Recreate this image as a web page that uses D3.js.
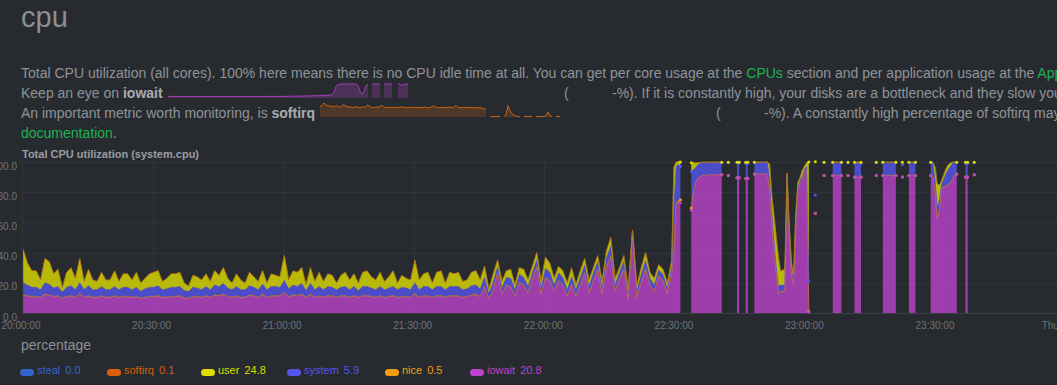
<!DOCTYPE html>
<html><head><meta charset="utf-8">
<script src="https://cdn.jsdelivr.net/npm/d3@7"></script>
<style>
html,body{margin:0;padding:0;background:#272b30;overflow:hidden;}
svg{display:block;font-family:"Liberation Sans",Arial,Helvetica,sans-serif;}
</style></head><body>
<svg id="c" width="1057" height="385"></svg>
<script>
// ---------- DATA ----------
// segment A: one sample per minute starting 20:00:30
const iowaitA = [11.5,11,10.5,10.5,10,12,11.5,10.5,11,9.5, 10.5,11,10,12.5,10,11,10,10,11,10, 10,11,10,10.5,10.5,10,10.5,9.5,10,10.5, 10.5,11,10,10,10.5,10.5,11,9.5,9.5,10.5, 10.5,10,11,10,11.5,11,12,10.5,10,11, 10,10,11.5,11,10,12,10,11,11,11, 13,10.5,11.5,11,12,10,12,10,11,10, 11,11,10,11,11,10,11,10,11,11, 10.5,10,11,10,10.5,11,10,10.5,10.5,10, 12.5,10,11,11,10,11,11,10,11,11, 11,10,10.5,11.5,12,10.5,17,9,15,26, 12,18,17,11,20,18,13,22,30,12, 23,21,14,21,18,11,18.5,11,18,26, 13,21,28.5,12,30,37,14,22,28.5,9, 53,10,20,28.5,18,14,24,21,13,26];
const systemA = [8,7,6,6,5,7.5,7,5.5,6,4, 6,6.5,5,7,5,6.5,5,5,6,5, 5,6,5,6,6,5,6,4.5,5.5,6, 6,6.5,5,5.5,6,6,6,5,4.5,6, 5.5,5,6,5,6.5,6,7,5.5,5,6, 5,5,6,5.5,5,6.5,5,6,6,5.5, 8,5,6.5,6,7,4.5,7,5,6,5, 6,5.5,5,5.5,6,5,6,4.5,6,6, 5.5,5,6,5,5.5,6,5,6,5.5,5, 7,5,6,6,5,6,6,5,6,6, 6,5,5,6,6,5,6,3.5,5,4, 4,5,5.5,4,5,5,4,4,4.5,4, 6,5.5,4,5,5,4,5,4,5,5, 4,5,5,4,6,6.5,4,4.5,5,3.5, 1,4,5,5.5,4.5,4,4,4,3,4];
const userA = [21.8,14.3,10.8,10.8,6.3,15.8,14.8,9.3,11.3,2.8, 9.8,11.8,7.3,15.8,5.3,10.8,6.3,5.3,9.3,6.3, 6.3,10.3,5.3,8.8,8.8,6.3,9.8,5.3,6.8,8.8, 9.8,9.8,5.3,6.8,8.8,8.8,9.3,4.8,3.3,7.8, 7.3,6.3,8.3,5.3,9.3,7.3,10.3,6.3,4.3,8.3, 6.3,4.3,8.8,6.8,5.3,8.8,4.3,8.3,7.3,6.8, 16.3,5.8,9.3,9.3,10.3,3.8,10.3,5.3,9.3,5.3, 8.3,7.8,4.3,7.8,9.3,6.3,8.3,4.8,9.3,10.3, 7.3,6.3,9.3,5.3,7.3,10.3,4.3,7.8,6.3,6.3, 14.8,6.3,8.3,9.3,4.3,9.3,10.3,4.3,9.3,8.3, 9.3,5.3,5.8,8.8,9.3,5.8,7.3,2.8,5.3,4.3, 4.3,4.3,5.8,3.3,4.3,5.3,4.3,4.3,4.8,4.3, 7.3,5.8,4.3,4.3,4.3,4.3,5.8,3.3,4.3,4.3, 4.3,3.3,3.8,4.3,4.3,5.8,4.3,2.8,3.8,2.8, 0.3,3.3,4.3,5.3,3.8,4.3,3.3,3.3,3.3,4.3];
const niceA = [0.6,0.5,0.5,0.5,0.4,0.6,0.5,0.5,0.5,0.4, 0.5,0.5,0.4,0.6,0.5,0.5,0.4,0.5,0.5,0.4, 0.5,0.5,0.4,0.5,0.5,0.4,0.5,0.4,0.5,0.5, 0.5,0.6,0.4,0.5,0.5,0.5,0.5,0.4,0.4,0.5, 0.5,0.4,0.5,0.4,0.6,0.5,0.6,0.5,0.4,0.5, 0.4,0.4,0.5,0.5,0.4,0.6,0.4,0.5,0.5,0.5, 0.6,0.5,0.5,0.5,0.6,0.4,0.6,0.4,0.5,0.4, 0.5,0.5,0.4,0.5,0.5,0.4,0.5,0.4,0.5,0.5, 0.5,0.4,0.5,0.4,0.5,0.5,0.4,0.5,0.5,0.4, 0.6,0.4,0.5,0.5,0.4,0.5,0.5,0.4,0.5,0.5, 0.5,0.4,0.5,0.5,0.6,0.5,0.6,0.4,0.5,0.6, 0.5,0.5,0.5,0.4,0.6,0.5,0.5,0.6,0.6,0.5, 0.6,0.5,0.5,0.5,0.5,0.4,0.5,0.4,0.5,0.6, 0.5,0.5,0.6,0.5,0.6,0.6,0.5,0.5,0.6,0.4, 0.6,0.4,0.5,0.6,0.5,0.5,0.5,0.5,0.4,0.5];
const softirqA = [0.3,0.2,0.2,0.2,0.2,0.3,0.2,0.2,0.2,0.1, 0.2,0.2,0.2,0.3,0.2,0.2,0.2,0.2,0.2,0.2, 0.2,0.2,0.2,0.2,0.2,0.2,0.2,0.1,0.2,0.2, 0.2,0.2,0.2,0.2,0.2,0.2,0.2,0.1,0.1,0.2, 0.2,0.2,0.2,0.2,0.2,0.2,0.3,0.2,0.2,0.2, 0.2,0.2,0.2,0.2,0.2,0.2,0.2,0.2,0.2,0.2, 0.3,0.2,0.2,0.2,0.2,0.1,0.2,0.2,0.2,0.2, 0.2,0.2,0.2,0.2,0.2,0.2,0.2,0.1,0.2,0.2, 0.2,0.2,0.2,0.2,0.2,0.2,0.1,0.2,0.2,0.2, 0.3,0.2,0.2,0.2,0.2,0.2,0.2,0.1,0.2,0.2, 0.2,0.2,0.2,0.2,0.2,0.2,0.2,0.1,0.2,0.2, 0.2,0.2,0.2,0.1,0.2,0.2,0.2,0.2,0.2,0.2, 0.2,0.2,0.2,0.2,0.2,0.2,0.2,0.1,0.2,0.2, 0.2,0.2,0.2,0.2,0.2,0.2,0.2,0.1,0.2,0.1, 0.2,0.1,0.2,0.2,0.2,0.2,0.2,0.2,0.1,0.2];
// segment B: one sample per 30 s starting 22:30:00 (null = no data)
const iowaitB = [40,72,73,73,null,null,null,null,68,80, 86,89,90,91,91,91,91.5,91.5,91.5,91.5, 91.5,91.5,91.5,null,null,91,null,null,null,89.5, 89.5,null,null,89,89,null,null,92,92,92, 92,92,92,92,80,58,42,26,12,14, 14,14,88,50,25,19,55,81,86,88, 93,95,0.5,null,null,66,null,null,null,91, null,null,null,91,91,91,91,91,null,null, 91,null,null,90,90,90,90,null,null,null, null,null,null,91,null,null,91,91,91,91, 91,91,91,null,null,90,null,null,91,91, 91,91,null,null,null,null,null,null,91,90, 80,62,68,82,83,84,85,86,88,91.5, 92,null,null,null,90,90,null,null,91.5];
const systemB = [30,24,24,22,null,null,null,null,24,14, 10,9,9,8.5,8.5,8.5,8,8,8,8, 8,8,8,null,null,8.5,null,null,null,10, 10,null,null,10,10,null,null,7.5,7.5,7.5, 7.5,7.5,7.5,7.5,8,8,6,5,5,4, 4,4,2,3,4,3,4,2,2,2, 2,2,20,null,null,12,null,null,null,8.5, null,null,null,8.5,8.5,8.5,8.5,8.5,null,null, 8.5,null,null,9,9,9,9,null,null,null, null,null,null,8.5,null,null,8.5,8.5,8.5,8.5, 8.5,8.5,8.5,null,null,8,null,null,8.5,8.5, 8.5,8.5,null,null,null,null,null,null,8.5,9, 8,8,6,3,5,8,10,11,11,8, 7.5,null,null,null,9,9,null,null,8];
const userB = [26,3,2,3,null,null,null,null,6,5, 3,1.5,0.5,0.3,0.3,0.3,0.3,0.3,0.3,0.3, 0.3,0.3,0.3,null,null,0.3,null,null,null,0.3, 0.3,null,null,0.8,0.8,null,null,0.3,0.3,0.3, 0.3,0.3,0.3,0.3,10,11,16,19,20,9, 10,10,2,5,4,2,6,3,1.5,4.5, 2,2.5,79,null,null,22,null,null,null,0.3, null,null,null,0.3,0.3,0.3,0.3,0.3,null,null, 0.3,null,null,0.8,0.8,0.8,0.8,null,null,null, null,null,null,0.3,null,null,0.3,0.3,0.3,0.3, 0.3,0.3,0.3,null,null,1.8,null,null,0.3,0.3, 0.3,0.3,null,null,null,null,null,null,0.3,0.8, 8,15,10,2,3,3,3,2,0.8,0.3, 0.3,null,null,null,0.8,0.8,null,null,0.3];
const niceB = [0.5,0.8,1.5,2,null,null,null,null,1.5,0.8, 0.3,0.1,0.1,0.1,0.1,0.1,0.1,0.1,0.1,0.1, 0.1,0.1,0.1,null,null,0.1,null,null,null,0.1, 0.1,null,null,0.1,0.1,null,null,0.1,0.1,0.1, 0.1,0.1,0.1,0.1,0.5,0.6,0.6,0.5,0.5,0.5, 0.5,0.5,0.6,0.6,0.5,0.5,0.5,0.5,0.3,0.1, 0.1,0.1,0.5,null,null,0.1,null,null,null,0.1, null,null,null,0.1,0.1,0.1,0.1,0.1,null,null, 0.1,null,null,0.1,0.1,0.1,0.1,null,null,null, null,null,null,0.1,null,null,0.1,0.1,0.1,0.1, 0.1,0.1,0.1,null,null,0.1,null,null,0.1,0.1, 0.1,0.1,null,null,null,null,null,null,0.1,0.1, 0.6,0.6,0.6,0.5,0.5,0.3,0.1,0.1,0.1,0.1, 0.1,null,null,null,0.1,0.1,null,null,0.1];
const softirqB = [0.1,0.05,0.05,0.05,null,null,null,null,0.05,0.05, 0.05,0.05,0.05,0.05,0.05,0.05,0.05,0.05,0.05,0.05, 0.05,0.05,0.05,null,null,0.05,null,null,null,0.05, 0.05,null,null,0.05,0.05,null,null,0.05,0.05,0.05, 0.05,0.05,0.05,0.05,0.1,0.3,0.1,0.05,0.05,0.05, 0.05,0.05,0.05,0.05,0.05,0.05,0.05,0.05,0.05,0.05, 0.05,0.05,0.05,null,null,0.05,null,null,null,0.05, null,null,null,0.05,0.05,0.05,0.05,0.05,null,null, 0.05,null,null,0.05,0.05,0.05,0.05,null,null,null, null,null,null,0.05,null,null,0.05,0.05,0.05,0.05, 0.05,0.05,0.05,null,null,0.05,null,null,0.05,0.05, 0.05,0.05,null,null,null,null,null,null,0.05,0.05, 0.15,0.1,0.05,0.05,0.05,0.05,0.05,0.05,0.05,0.05, 0.05,null,null,null,0.05,0.05,null,null,0.05];

// sparklines (lower resolution, 121 samples each)
const sparkIowait = [11,10,10,11,10,10,10,11,10,10, 10,11,10,10,10,10,11,10,10,10, 10,10,11,10,10,10,10,11,10,10, 10,10,10,11,10,10,10,10,10,11, 10,10,10,10,11,10,10,10,10,11, 10,10,11,10,10,11,10,11,10,11, 11,11,12,11,12,11,12,13,12,13, 14,13,15,14,16,14,17,15,18,16, 19,17,22, 40,75,86,89,91,91,91,90,91,91,90,91,80,45,22,40,80,86, null, 90,91,91,91,90, null, 91,91,90,91,91, null,null, 90,91,82,86,91,91];
const sparkSoftirq = [0.22,0.28,0.32,0.26,0.27,0.24,0.25,0.23,0.26,0.24, 0.22,0.25,0.29,0.23,0.24,0.22,0.23,0.21,0.24,0.22, 0.21,0.23,0.22,0.24,0.28,0.23,0.22,0.21,0.23,0.22, 0.24,0.27,0.22,0.21,0.23,0.22,0.21,0.22,0.23,0.21, 0.22,0.24,0.21,0.22,0.21,0.23,0.22,0.21,0.22,0.21, 0.22,0.21,0.23,0.22,0.21,0.22,0.23,0.26,0.22,0.21, 0.22,0.21,0.22,0.21,0.22,0.23,0.21,0.22,0.27,0.22, 0.21,0.22,0.21,0.22,0.21,0.22,0.21,0.22,0.21,0.21, 0.21,0.2,0.19,0.18, null, 0.01,0.01,0.01,0.01,0.01,0.01, null, 0.01,0.05,0.26,0.14,0.07,0.04,0.02,0.01,0.01, null, 0.01,0.01,0.01,0.01,0.01, null, 0.01,0.01,0.01,0.01,0.01, 0.02,0.12,0.03,0.01, null, 0.01,0.01,0.01];

const yTicks = [0,20,40,60,80,100];
const xTickLabels = ["20:00:00","20:30:00","21:00:00","21:30:00","22:00:00","22:30:00","23:00:00","23:30:00","Thu, 00:00"];
const legendNames = ["steal","softirq","user","system","nice","iowait"];
const legendValues = ["0.0","0.1","24.8","5.9","0.5","20.8"];
const legendColors = ["#3366cc","#dd5d0a","#dddd00","#5555ee","#f39c12","#bb44cc"];
const seriesColors = {iowait:"#bb44cc", nice:"#f39c12", system:"#5555ee", user:"#dddd00", softirq:"#dd5d0a"};

// ---------- BUILD ----------
const svg = d3.select("#c");
const TXT = "#8f9398", BOLD = "#a9acb0", GREEN = "#1fb14e";

svg.append("text").attr("x",21).attr("y",27).attr("font-size",29).attr("fill","#8c8f93").text("cpu");

// paragraph
const l1 = svg.append("text").attr("x",21).attr("y",78).attr("font-size",14).attr("fill",TXT);
l1.append("tspan").text("Total CPU utilization (all cores). 100% here means there is no CPU idle time at all. You can get per core usage at the ");
l1.append("tspan").attr("fill",GREEN).text("CPUs");
l1.append("tspan").text(" section and per application usage at the ");
l1.append("tspan").attr("fill",GREEN).text("Applications Monitoring");
l1.append("tspan").text(" section.");

const l2 = svg.append("text").attr("x",21).attr("y",98).attr("font-size",14).attr("fill",TXT);
l2.append("tspan").text("Keep an eye on ");
l2.append("tspan").attr("font-weight","bold").attr("fill",BOLD).text("iowait");
svg.append("text").attr("x",564).attr("y",98).attr("font-size",14).attr("fill",TXT).text("(");
svg.append("text").attr("x",612).attr("y",98).attr("font-size",14).attr("fill",TXT).text("-%). If it is constantly high, your disks are a bottleneck and they slow your system down.");

const l3 = svg.append("text").attr("x",21).attr("y",118).attr("font-size",14).attr("fill",TXT);
l3.append("tspan").text("An important metric worth monitoring, is ");
l3.append("tspan").attr("font-weight","bold").attr("fill",BOLD).text("softirq");
svg.append("text").attr("x",716).attr("y",118).attr("font-size",14).attr("fill",TXT).text("(");
svg.append("text").attr("x",764).attr("y",118).attr("font-size",14).attr("fill",TXT).text("-%). A constantly high percentage of softirq may indicate network driver issues.");

const l4 = svg.append("text").attr("x",21).attr("y",137.5).attr("font-size",14).attr("fill",TXT);
l4.append("tspan").attr("fill",GREEN).text("documentation");
l4.append("tspan").text(".");

// sparklines
function spark(vals, x0, x1, yb, yt, color, fillOp){
  const sx = d3.scaleLinear().domain([0, vals.length-1]).range([x0,x1]);
  const sy = d3.scaleLinear().domain([0, d3.max(vals)]).range([yb,yt]);
  const def = v => v!=null;
  svg.append("path").attr("d", d3.area().defined(def).x((v,i)=>sx(i)).y0(yb).y1(v=>sy(v))(vals))
     .attr("fill",color).attr("fill-opacity",fillOp);
  svg.append("path").attr("d", d3.line().defined(def).x((v,i)=>sx(i)).y(v=>sy(v))(vals))
     .attr("fill","none").attr("stroke",color).attr("stroke-width",1);
}
spark(sparkIowait,168,408,98,84,"#a040b5",0.3);
spark(sparkSoftirq,320,560,117,103,"#c8600f",0.25);

// chart title
svg.append("text").attr("x",22).attr("y",158).attr("font-size",11).attr("font-weight","bold").attr("fill","#9a9da1").text("Total CPU utilization (system.cpu)");

// scales
const parseT = d3.timeParse("%Y-%m-%d %H:%M:%S");
const t0 = parseT("2024-01-03 20:00:00"), t1 = parseT("2024-01-04 00:00:00");
const startA = parseT("2024-01-03 20:00:30"), startB = parseT("2024-01-03 22:30:00");
const x = d3.scaleTime().domain([t0,t1]).range([21,1065.6]);
const y = d3.scaleLinear().domain([0,100]).range([313,162]);

const times = iowaitA.map((_,i)=>d3.timeSecond.offset(startA,i*60))
  .concat(iowaitB.map((_,j)=>d3.timeSecond.offset(startB,j*30)));
const cat = (a,b)=>a.concat(b);
const iow = cat(iowaitA,iowaitB), nic = cat(niceA,niceB), sys = cat(systemA,systemB), usr = cat(userA,userB), sirq = cat(softirqA,softirqB);
const data = times.map((t,k)=>({t, iowait:iow[k], nice:nic[k], system:sys[k], user:usr[k], softirq:sirq[k]}));

// grid
const grid = svg.append("g");
yTicks.forEach(v=>{
  grid.append("line").attr("x1",22).attr("x2",1057).attr("y1",Math.round(y(v))+0.5).attr("y2",Math.round(y(v))+0.5)
    .attr("stroke",v===0?"#3a3f45":"#30353a").attr("stroke-width",1);
});
const xt = x.ticks(d3.timeMinute.every(30));
xt.forEach(t=>{
  grid.append("line").attr("x1",Math.round(x(t))+1.5).attr("x2",Math.round(x(t))+1.5).attr("y1",162).attr("y2",313)
    .attr("stroke","#30353a").attr("stroke-width",1);
});

// y labels
yTicks.forEach(v=>{
  svg.append("text").attr("x",17).attr("y",y(v)+7.5).attr("text-anchor","end").attr("font-size",10)
    .attr("fill","#6f7378").text(d3.format(".1f")(v));
});
// x labels
xt.forEach((t,i)=>{
  svg.append("text").attr("x",x(t)).attr("y",329).attr("text-anchor","middle").attr("font-size",10)
    .attr("fill","#6f7378").text(xTickLabels[i]);
});

// stacked areas
const keys = ["iowait","nice","system","user","softirq"];
const stacked = d3.stack().keys(keys).value((d,k)=>d[k]==null?0:d[k])(data);
const def = p => p.data.iowait != null;
svg.append("clipPath").attr("id","pc").append("rect").attr("x",22).attr("y",160).attr("width",1100).attr("height",154);
const plot = svg.append("g").attr("clip-path","url(#pc)");
const area = d3.area().defined(def).x(p=>x(p.data.t)).y0(p=>y(p[0])).y1(p=>y(p[1]));
const line = d3.line().defined(def).x(p=>x(p.data.t)).y(p=>y(p[1]));
stacked.forEach(s=>{
  plot.append("path").attr("d",area(s)).attr("fill",seriesColors[s.key]).attr("fill-opacity",0.8);
});
const lineStyle = {iowait:[seriesColors.iowait,0.6], nice:["#c8821e",0.6], system:[seriesColors.system,0.5], user:[seriesColors.user,0.5], softirq:["#a8621a",0.7]};
stacked.forEach(s=>{
  plot.append("path").attr("d",line(s)).attr("fill","none").attr("stroke",lineStyle[s.key][0])
    .attr("stroke-opacity",lineStyle[s.key][1]).attr("stroke-width",1);
});
// gap-edge / isolated points
const n = data.length;
const isDef = k => k>=0 && k<n && data[k].iowait!=null;
["nice","iowait","system","user"].forEach(key=>{
  const s = stacked[keys.indexOf(key)];
  data.forEach((d,k)=>{
    if(!isDef(k)) return;
    const edge = (k>0 && !isDef(k-1)) || (k<n-1 && !isDef(k+1));
    if(!edge) return;
    plot.append("circle").attr("cx",x(d.t)).attr("cy",y(s[k][1])).attr("r",1.5).attr("fill",seriesColors[key]);
  });
});

// legend
svg.append("text").attr("x",21).attr("y",350).attr("font-size",14).attr("fill","#8c8f93").text("percentage");
const legX = [20,107,201,287,385,470];
legendNames.forEach((nm,i)=>{
  const g = svg.append("g");
  g.append("rect").attr("x",legX[i]).attr("y",369).attr("width",14).attr("height",7).attr("rx",3.5).attr("fill",legendColors[i]);
  const t = g.append("text").attr("x",legX[i]+17).attr("y",374).attr("font-size",11).attr("fill",legendColors[i]);
  t.append("tspan").text(nm);
  t.append("tspan").attr("dx",5).text(legendValues[i]);
});
</script>
</body></html>
